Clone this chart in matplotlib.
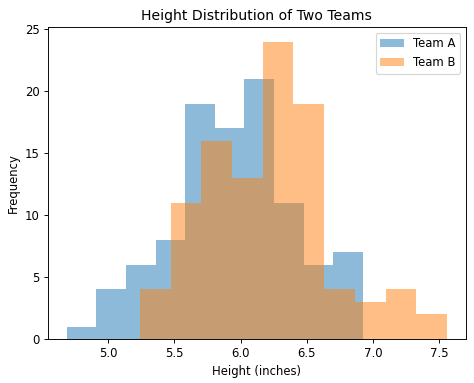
import numpy as np
import matplotlib
matplotlib.use("Agg")
import matplotlib.pyplot as plt

# Data
team_a_range = (4.687, 6.924)
team_a_counts = [1, 4, 6, 8, 19, 17, 21, 11, 6, 7]
team_b_range = (5.239, 7.560)
team_b_counts = [4, 11, 16, 13, 24, 19, 4, 3, 4, 2]
labels = ["Team A", "Team B"]

edges_a = np.linspace(team_a_range[0], team_a_range[1], len(team_a_counts) + 1)
edges_b = np.linspace(team_b_range[0], team_b_range[1], len(team_b_counts) + 1)
centers_a = (edges_a[:-1] + edges_a[1:]) / 2
centers_b = (edges_b[:-1] + edges_b[1:]) / 2

DPI = 84
fig, ax = plt.subplots(figsize=(474 / DPI, 383 / DPI), dpi=DPI)
ax.hist(centers_a, bins=edges_a, weights=team_a_counts, alpha=0.5, label=labels[0])
ax.hist(centers_b, bins=edges_b, weights=team_b_counts, alpha=0.5, label=labels[1])
ax.set_title("Height Distribution of Two Teams")
ax.set_xlabel("Height (inches)")
ax.set_ylabel("Frequency")
ax.legend(loc="upper right")
fig.subplots_adjust(left=0.101, right=0.983, top=0.930, bottom=0.115)
fig.savefig("out.png", dpi=DPI)
